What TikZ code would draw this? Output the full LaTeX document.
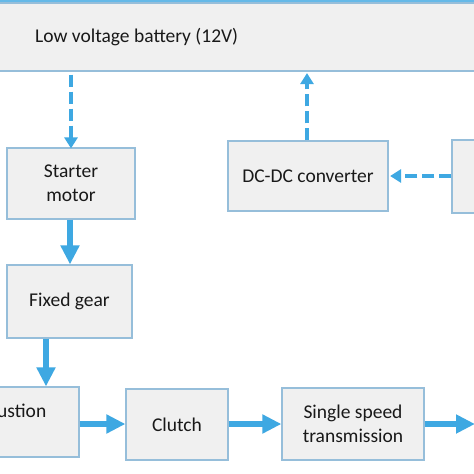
\documentclass[tikz,border=0pt]{standalone}
\usepackage{fontspec}
\setmainfont{Carlito}
\usetikzlibrary{arrows.meta}
\definecolor{boxfill}{RGB}{240,240,240}
\definecolor{boxline}{RGB}{150,190,218}
\definecolor{arrowblue}{RGB}{62,168,226}
\tikzset{
  box/.style={draw=boxline, fill=boxfill, line width=1.2pt, inner sep=0pt, align=center,
    font=\fontsize{19.5}{24}\selectfont, text=black!90},
  solidarrow/.style={draw=arrowblue, line width=6pt, -{Triangle[length=19pt,width=18pt]}},
  dasharrow/.style={draw=arrowblue, line width=4pt, dash pattern=on 12pt off 5pt,
    -{Triangle[length=11pt,width=13pt]}},
}
\begin{document}
\begin{tikzpicture}[x=1pt,y=-1pt]
\useasboundingbox (0,0) rectangle (474,474);
\clip (0,0) rectangle (474,474);
\fill[white] (0,0) rectangle (474,474);
% top battery band
\node[box, minimum width=490pt, minimum height=68pt] (battery) at (237,37) {};
\fill[arrowblue!80] (0,0) rectangle (474,2.2);
\node[anchor=west, font=\fontsize{19.5}{24}\selectfont, text=black!90, inner sep=0pt] (battlabel) at (35,37) {Low voltage battery (12V)};
% boxes
\node[box, minimum width=128pt, minimum height=71pt] (starter) at (71,183.5) {Starter\\motor};
\node[box, minimum width=160pt, minimum height=70pt] (dcdc) at (308,176) {DC-DC converter};
\node[box, minimum width=60pt, minimum height=73pt] (right) at (482,176.5) {};
\node[box, minimum width=125pt, minimum height=73pt] (fixed) at (69.5,301.5) {Fixed gear};
\node[box, minimum width=150pt, minimum height=70pt] (comb) at (4,422) {};
\node[anchor=east, font=\fontsize{19.5}{24}\selectfont, text=black!90, inner sep=0pt] (comblabel) at (46.5,411) {Combustion};
\node[box, minimum width=102pt, minimum height=71pt] (clutch) at (177,424.5) {Clutch};
\node[box, minimum width=142pt, minimum height=72pt] (trans) at (353,424) {Single speed\\transmission};
% helper coordinates
\coordinate (cx1) at (46,0);
\coordinate (cy1) at (0,424);
\coordinate (cx2) at (307,0);
\coordinate (rightend) at (475,424);
% dashed arrows
\draw[dasharrow] ([yshift=-3pt]battery.south -| starter.north) -- ([yshift=-1pt]starter.north);
\draw[dasharrow] (dcdc.north -| cx2) -- ([yshift=-1.5pt]battery.south -| cx2);
\draw[dasharrow] (right.west |- dcdc.east) -- ([xshift=1.5pt]dcdc.east);
% solid arrows
\draw[solidarrow] ([xshift=-1pt]starter.south) -- ([xshift=-1pt]fixed.north -| starter.south);
\draw[solidarrow] (fixed.south -| cx1) -- (comb.north -| cx1);
\draw[solidarrow] (comb.east |- cy1) -- (clutch.west |- cy1);
\draw[solidarrow] (clutch.east |- cy1) -- (trans.west |- cy1);
\draw[solidarrow] (trans.east |- cy1) -- (rightend);
\end{tikzpicture}
\end{document}
